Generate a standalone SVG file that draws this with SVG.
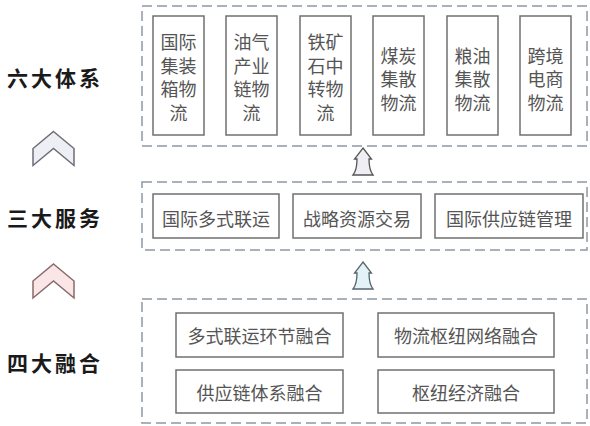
<svg xmlns="http://www.w3.org/2000/svg" width="590" height="426" viewBox="0 0 590 426">
<style>
.grp{fill:none;stroke:#8d99a6;stroke-width:1.5;stroke-dasharray:10,5}
.box{fill:#fff;stroke:#707070;stroke-width:1.5}
.t{font-family:"Noto Sans CJK SC","Noto Sans",sans-serif;font-size:18px;fill:#555;text-anchor:middle;dominant-baseline:central}
.h{font-family:"Noto Sans CJK SC","Noto Sans",sans-serif;font-size:21px;font-weight:bold;fill:#1a1a1a;letter-spacing:3px;dominant-baseline:central}
</style>
<rect width="590" height="426" fill="#fff"/>
<defs>
<path id="chev" d="M0,0 L20.5,17 L20.5,34 L0,17 L-20.5,34 L-20.5,17 Z"/>
<path id="uparr" d="M0,0 L8.5,11 L6,11 Q6,22 10,27 L-10,27 Q-6,22 -6,11 L-8.5,11 Z"/>
</defs>

<g id="labels">
<text class="h" x="7" y="77">六大体系</text>
<text class="h" x="7" y="217">三大服务</text>
<text class="h" x="7" y="362">四大融合</text>
</g>

<g id="connectors">
<use href="#chev" x="53.5" y="131.5" fill="#eeeef5" stroke="#6e6e7a" stroke-width="1.5"/>
<use href="#chev" x="53.5" y="264" fill="#fae6e6" stroke="#8a6a6a" stroke-width="1.5"/>
<use href="#uparr" x="363" y="148" fill="#eeeef4" stroke="#555" stroke-width="1.3"/>
<use href="#uparr" x="363" y="262" fill="#e3f2f6" stroke="#55656c" stroke-width="1.3"/>
</g>

<g id="six-systems">
<rect class="grp" x="142" y="6" width="445" height="140"/>
<g id="n-container">
<rect class="box" x="153" y="16" width="51" height="119"/>
<text class="t"><tspan x="178.5" y="41">国际</tspan><tspan x="178.5" y="64.5">集装</tspan><tspan x="178.5" y="88">箱物</tspan><tspan x="178.5" y="111.5">流</tspan></text>
</g>
<g id="n-oil">
<rect class="box" x="226" y="16" width="51" height="119"/>
<text class="t"><tspan x="251.5" y="41">油气</tspan><tspan x="251.5" y="64.5">产业</tspan><tspan x="251.5" y="88">链物</tspan><tspan x="251.5" y="111.5">流</tspan></text>
</g>
<g id="n-iron">
<rect class="box" x="300" y="16" width="51" height="119"/>
<text class="t"><tspan x="325.5" y="41">铁矿</tspan><tspan x="325.5" y="64.5">石中</tspan><tspan x="325.5" y="88">转物</tspan><tspan x="325.5" y="111.5">流</tspan></text>
</g>
<g id="n-coal">
<rect class="box" x="373" y="16" width="51" height="119"/>
<text class="t"><tspan x="398.5" y="54.5">煤炭</tspan><tspan x="398.5" y="78">集散</tspan><tspan x="398.5" y="101.5">物流</tspan></text>
</g>
<g id="n-grain">
<rect class="box" x="447" y="16" width="51" height="119"/>
<text class="t"><tspan x="472.5" y="54.5">粮油</tspan><tspan x="472.5" y="78">集散</tspan><tspan x="472.5" y="101.5">物流</tspan></text>
</g>
<g id="n-ecom">
<rect class="box" x="520" y="16" width="51" height="119"/>
<text class="t"><tspan x="545.5" y="54.5">跨境</tspan><tspan x="545.5" y="78">电商</tspan><tspan x="545.5" y="101.5">物流</tspan></text>
</g>
</g>

<g id="three-services">
<rect class="grp" x="142" y="182" width="445" height="68"/>
<g id="n-multimodal">
<rect class="box" x="153" y="194" width="126" height="44"/>
<text class="t" x="216" y="218">国际多式联运</text>
</g>
<g id="n-strategic">
<rect class="box" x="293" y="194" width="128" height="44"/>
<text class="t" x="357" y="218">战略资源交易</text>
</g>
<g id="n-supply">
<rect class="box" x="435" y="194" width="148" height="44"/>
<text class="t" x="509" y="218">国际供应链管理</text>
</g>
</g>

<g id="four-fusions">
<rect class="grp" x="142" y="299" width="445" height="124"/>
<g id="n-f1">
<rect class="box" x="176" y="313" width="167" height="44"/>
<text class="t" x="259.5" y="335">多式联运环节融合</text>
</g>
<g id="n-f2">
<rect class="box" x="378" y="313" width="176" height="44"/>
<text class="t" x="466" y="335">物流枢纽网络融合</text>
</g>
<g id="n-f3">
<rect class="box" x="176" y="370" width="167" height="43"/>
<text class="t" x="259.5" y="391.5">供应链体系融合</text>
</g>
<g id="n-f4">
<rect class="box" x="378" y="370" width="176" height="43"/>
<text class="t" x="466" y="391.5">枢纽经济融合</text>
</g>
</g>
</svg>
